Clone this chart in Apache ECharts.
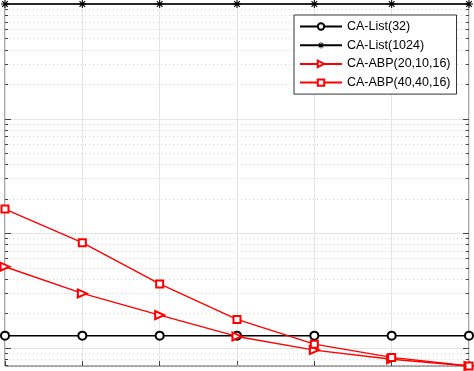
<!DOCTYPE html>
<html>
<head>
<meta charset="utf-8">
<script src="https://cdn.jsdelivr.net/npm/echarts@6/dist/echarts.min.js"></script>
<style>
html,body{margin:0;padding:0;background:#fff;}
#chart{width:474px;height:371px;}
</style>
</head>
<body>
<div id="chart"></div>
<script>
// x positions (no labels shown in the picture)
var xValues = [1, 2, 3, 4, 5, 6, 7];
// series values
var caList32 = [1.27, 1.27, 1.27, 1.27, 1.27, 1.27, 1.27];
var caList1024 = [1000, 1000, 1000, 1000, 1000, 1000, 1000];
var abp20 = [5.08, 2.97, 1.92, 1.25, 0.95, 0.79, 0.69];
var abp40 = [16.2, 8.23, 3.59, 1.76, 1.07, 0.82, 0.69];
// y grid / tick values
var majorTicks = [1, 10, 100];
var minorTicks = [0.7, 0.8, 0.9, 2, 3, 4, 5, 6, 7, 8, 9,
	20, 30, 40, 50, 60, 70, 80, 90, 200, 300, 400, 500, 600, 700, 800, 900];

var yMin = 0.69, yMax = 1000;

function pairs(ys) {
	var out = [];
	for (var i = 0; i < xValues.length; i++) {
		out.push([xValues[i], ys[i]]);
	}
	return out;
}

// asterisk marker, like matlab '*'
var starPath = 'path://M-0.13,-1L0.13,-1L0.13,1L-0.13,1Z' +
	'M-1,-0.13L1,-0.13L1,0.13L-1,0.13Z' +
	'M-0.8,-0.6L-0.6,-0.8L0.8,0.6L0.6,0.8Z' +
	'M0.6,-0.8L0.8,-0.6L-0.6,0.8L-0.8,0.6Z';

var tickData = [];
for (var i = 0; i < majorTicks.length; i++) tickData.push([xValues[0], majorTicks[i], 1]);
for (var j = 0; j < minorTicks.length; j++) tickData.push([xValues[0], minorTicks[j], 0]);

var myChart = echarts.init(document.getElementById('chart'));
var option = {
	animation: false,
	backgroundColor: '#fff',
	textStyle: { fontFamily: 'Liberation Sans, Arial, sans-serif' },
	grid: {
		left: 5, right: 5, top: 4, bottom: 5,
		show: true, borderColor: '#4a4a4a', borderWidth: 1, backgroundColor: 'transparent'
	},
	legend: {
		data: ['CA-List(32)', 'CA-List(1024)', 'CA-ABP(20,10,16)', 'CA-ABP(40,40,16)'],
		orient: 'vertical',
		left: 294, top: 15,
		padding: [5, 6, 5, 5],
		itemWidth: 42, itemHeight: 8, itemGap: 5.7,
		backgroundColor: '#fff',
		borderColor: '#333', borderWidth: 1,
		textStyle: { fontSize: 12.5, color: '#000', lineHeight: 12, fontFamily: 'Liberation Sans, Arial, sans-serif' }
	},
	xAxis: {
		type: 'value', min: 1, max: 7, interval: 1,
		axisLine: { show: false },
		axisLabel: { show: false },
		axisTick: { show: true, inside: true, length: 5, lineStyle: { color: '#444' } },
		splitLine: { show: true, lineStyle: { color: '#e4e4e4', width: 1 } }
	},
	yAxis: {
		type: 'log', logBase: 10, min: yMin, max: yMax,
		axisLine: { show: false },
		axisLabel: { show: false },
		axisTick: { show: false },
		splitLine: { show: false }
	},
	series: [
		{
			// y grid lines and ticks on both sides
			type: 'custom',
			name: 'yticks',
			silent: true,
			z: 1,
			clip: false,
			encode: { x: 0, y: 1 },
			data: tickData,
			renderItem: function (params, api) {
				var cs = params.coordSys;
				var y = Math.round(api.coord([api.value(0), api.value(1)])[1]) + 0.5;
				var major = api.value(2) === 1;
				var len = major ? 6 : 3;
				var l = cs.x, r = cs.x + cs.width;
				return {
					type: 'group',
					children: [
						{ type: 'line', shape: { x1: l, y1: y, x2: r, y2: y },
							style: { stroke: major ? '#e4e4e4' : '#d6d6d6', lineWidth: 1, lineDash: major ? null : [1, 3] } },
						{ type: 'line', shape: { x1: l, y1: y, x2: l + len, y2: y },
							style: { stroke: '#444', lineWidth: 1 } },
						{ type: 'line', shape: { x1: r - len, y1: y, x2: r, y2: y },
							style: { stroke: '#444', lineWidth: 1 } }
					]
				};
			}
		},
		{
			name: 'CA-List(32)', type: 'line', z: 3, clip: false,
			data: pairs(caList32),
			symbol: 'emptyCircle', symbolSize: 8,
			lineStyle: { color: '#000', width: 1.5 },
			itemStyle: { color: '#000', borderWidth: 1.5 }
		},
		{
			name: 'CA-List(1024)', type: 'line', z: 3, clip: false,
			data: pairs(caList1024),
			symbol: starPath, symbolSize: 8,
			lineStyle: { color: '#000', width: 1.5 },
			itemStyle: { color: '#000' }
		},
		{
			name: 'CA-ABP(20,10,16)', type: 'line', z: 4, clip: false,
			data: pairs(abp20),
			symbol: 'emptyTriangle', symbolSize: [8, 9], symbolRotate: -90,
			lineStyle: { color: '#f00', width: 1.4 },
			itemStyle: { color: '#f00', borderWidth: 1.2 }
		},
		{
			name: 'CA-ABP(40,40,16)', type: 'line', z: 4, clip: false,
			data: pairs(abp40),
			symbol: 'emptyRect', symbolSize: 7,
			lineStyle: { color: '#f00', width: 1.4 },
			itemStyle: { color: '#f00', borderWidth: 1.2 }
		}
	]
};
myChart.setOption(option);
</script>
</body>
</html>
